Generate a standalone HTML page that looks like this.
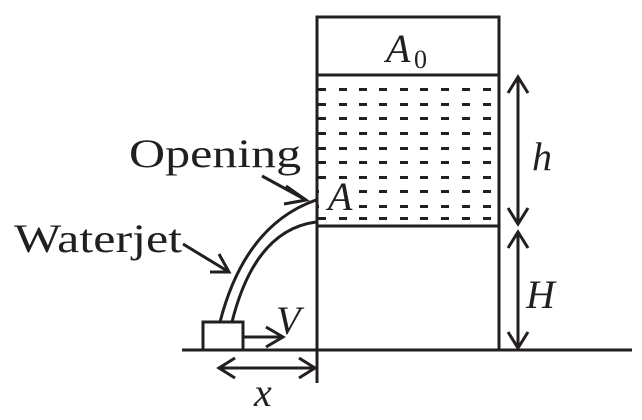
<!DOCTYPE html>
<html><head><style>body{margin:0;background:#fff}svg{display:block}</style></head><body>
<svg width="642" height="420" viewBox="0 0 642 420" xmlns="http://www.w3.org/2000/svg">
<defs>
<g id="r" fill="#231f20">
<rect x="318" y="0" width="8" height="3"/><rect x="339" y="0" width="8" height="3"/><rect x="359" y="0" width="8" height="3"/><rect x="379" y="0" width="8" height="3"/><rect x="400" y="0" width="8" height="3"/><rect x="420" y="0" width="8" height="3"/><rect x="441" y="0" width="8" height="3"/><rect x="462" y="0" width="8" height="3"/><rect x="483" y="0" width="8" height="3"/>
</g>
</defs>
<use href="#r" y="88"/><use href="#r" y="103"/><use href="#r" y="117"/><use href="#r" y="132"/><use href="#r" y="147"/><use href="#r" y="161"/><use href="#r" y="176"/><use href="#r" y="190"/><use href="#r" y="205"/><use href="#r" y="217"/>
<g stroke="#231f20" stroke-width="3" fill="none">
<rect x="317" y="17" width="182" height="333"/>
<line x1="317" y1="75" x2="499" y2="75"/>
<line x1="317" y1="226" x2="499" y2="226"/>
<line x1="182" y1="350" x2="632" y2="350"/>
<line x1="317" y1="350" x2="317" y2="383"/>
<path d="M316,200 Q245,225 220,322"/>
<path d="M316,222 Q255,230 232,322"/>
<rect x="203" y="322" width="40" height="28"/>
<line x1="243" y1="337" x2="283" y2="337"/>
<polyline points="266,327 283,337 266,347"/>
<line x1="219" y1="368" x2="315" y2="368"/>
<polyline points="235,358 219,368 235,378"/>
<polyline points="299,358 315,368 299,378"/>
<line x1="518" y1="77" x2="518" y2="224"/>
<polyline points="508,93 518,77 528,93"/>
<polyline points="508,208 518,224 528,208"/>
<line x1="518" y1="232" x2="518" y2="348"/>
<polyline points="508,248 518,232 528,248"/>
<polyline points="508,332 518,348 528,332"/>
<line x1="262" y1="176" x2="306" y2="200"/>
<polyline points="286,186 306,200 284,204"/>
<line x1="183" y1="244" x2="229" y2="272"/>
<polyline points="219,254 229,272 210,272"/>
</g>
<rect x="319" y="184" width="38" height="30" fill="#fff"/>
<g font-family="Liberation Serif, serif" fill="#231f20" font-size="40">
<text x="386" y="62" font-style="italic">A</text>
<text x="414" y="68" font-size="26">0</text>
<text x="328" y="210" font-style="italic">A</text>
<text x="532" y="170" font-style="italic">h</text>
<text x="526" y="308" font-style="italic">H</text>
<text x="276" y="334" font-style="italic">V</text>
<text x="254" y="406" font-style="italic">x</text>
<text transform="translate(129,167) scale(1.25,1)">Opening</text>
<text transform="translate(14,252) scale(1.25,1)">Waterjet</text>
</g>
</svg>
</body></html>
